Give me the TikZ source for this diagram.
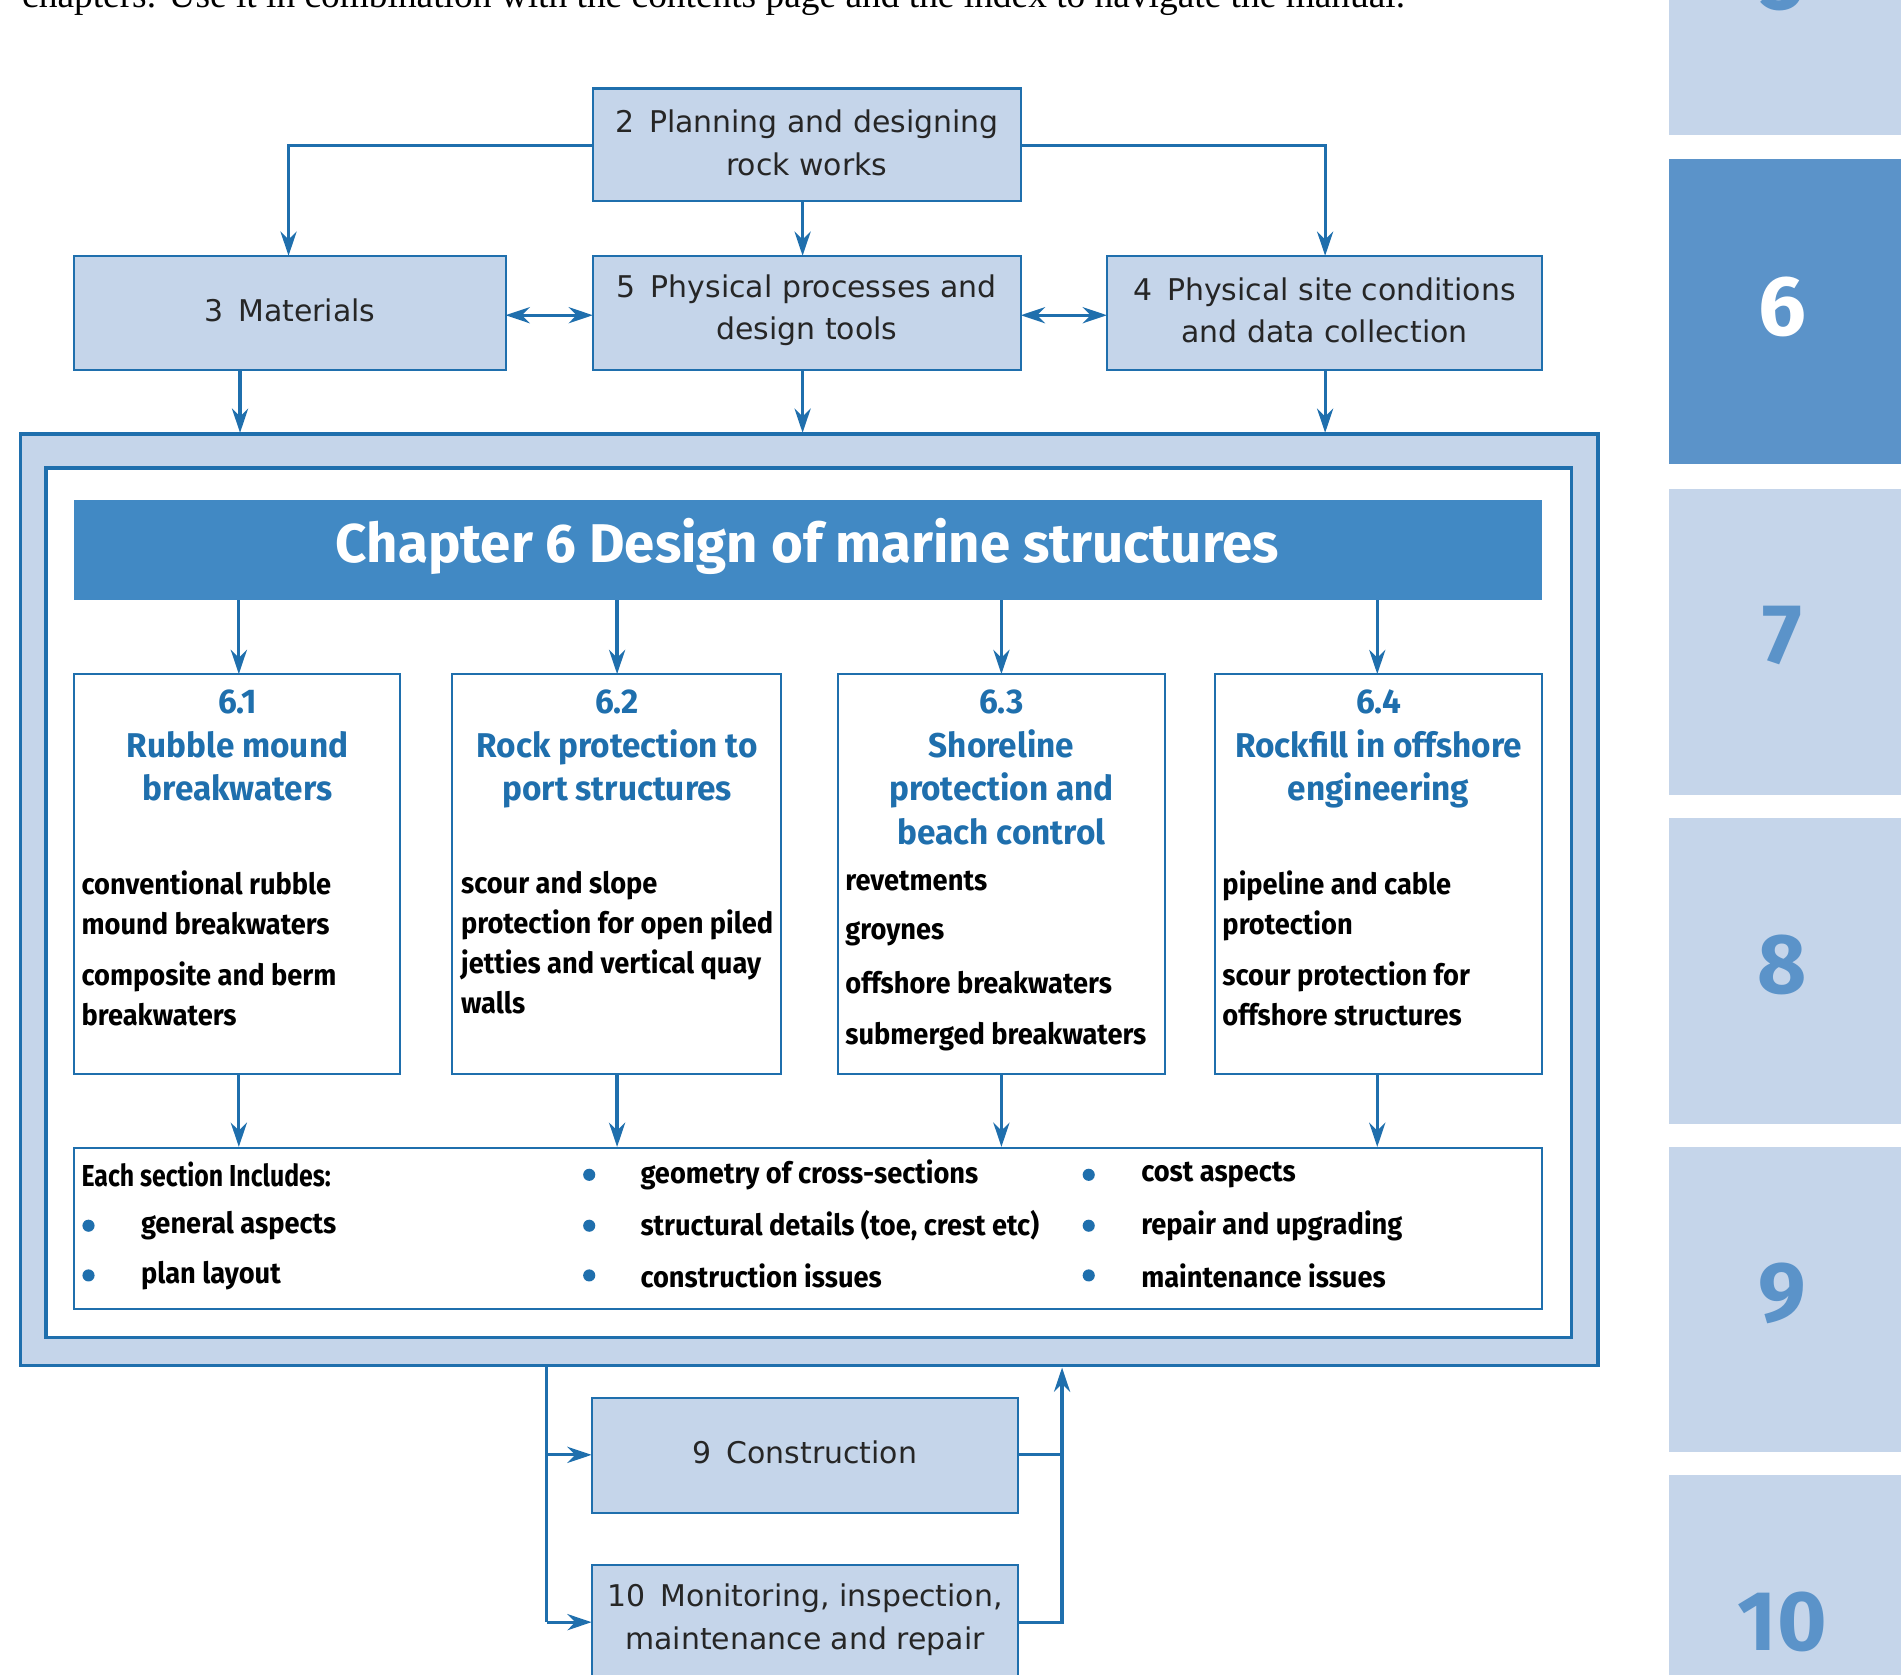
\documentclass[tikz,border=0pt]{standalone}
\usepackage{fontspec}
\setmainfont{DejaVu Sans}
\newfontfamily\cond{Fira Sans}[FakeStretch=0.93]
\newfontfamily\condb{Fira Sans}[FakeStretch=0.97]
\newfontfamily\fira{Fira Sans}
\newfontfamily\serif{Liberation Serif}
\usetikzlibrary{arrows.meta}
\definecolor{lb}{HTML}{C5D5EA}
\definecolor{db}{HTML}{1F6FAD}
\definecolor{tb}{HTML}{4189C4}
\definecolor{tab}{HTML}{5B93C9}
\begin{document}
\begin{tikzpicture}[x=0.6pt,y=-0.6pt,
 box/.style={draw=db,line width=1pt,fill=lb},
 btxt/.style={font=\fontsize{14.8}{21}\selectfont,align=center,text=black!85},
 arr/.style={draw=db,line width=1.6pt,-{Stealth[length=12pt,width=8pt]}},
 darr/.style={draw=db,line width=1.6pt,{Stealth[length=12pt,width=8pt]}-{Stealth[length=12pt,width=8pt]}},
 col/.style={draw=db,line width=1pt,fill=white},
 head/.style={font=\condb\bfseries\fontsize{17}{21.6}\selectfont,text=db,align=center},
 item/.style={font=\cond\bfseries\fontsize{14.5}{19.8}\selectfont,align=left,anchor=north west,inner sep=0pt},
 num/.style={font=\fira\bfseries\fontsize{42}{42}\selectfont,text=tab}]
\useasboundingbox (0,0) rectangle (1568,1381);
\begin{scope}
\clip (0,0) rectangle (1568,1381);
\node[anchor=base west,inner sep=0pt,font=\serif\fontsize{18.5}{18.5}\selectfont] (top) at (18,6) {chapters. Use it in combination with the contents page and the index to navigate the manual.};
% tabs
\fill[lb] (1377,-10) rectangle (1568,111);
\fill[tab] (1377,131) rectangle (1568,383);
\fill[lb] (1377,403) rectangle (1568,656);
\fill[lb] (1377,675) rectangle (1568,927);
\fill[lb] (1377,946) rectangle (1568,1198);
\fill[lb] (1377,1217) rectangle (1568,1400);
\node[num] (t5) at (1470,-15) {5};
\node[num,text=white] (t6) at (1470,253) {6};
\node[num] (t7) at (1470,524) {7};
\node[num] (t8) at (1470,796) {8};
\node[num] (t9) at (1470,1067) {9};
\node[num] (t10) at (1470,1338) {10};
% top boxes
\draw[box] (489,73) rectangle (842,166); \node[btxt] (b2) at (665.5,118) {2\enspace Planning and designing\\rock works};
\draw[box] (61,211) rectangle (417,305); \node[btxt] (b3) at (239,256) {3\enspace Materials};
\draw[box] (489,211) rectangle (842,305); \node[btxt] (b5) at (665.5,256) {5\enspace Physical processes and\\design tools};
\draw[box] (913,211) rectangle (1272,305); \node[btxt] (b4) at (1092.5,256) {4\enspace Physical site conditions\\and data collection};
\coordinate (b2l) at (489,120); \coordinate (b2r) at (842,120);
\draw[arr] (b2l) -- (238,120) -- (238,211);
\draw[arr] (b2r) -- (1093,120) -- (1093,211);
\draw[arr] (662,166) -- (662,211);
\draw[darr] (417,260) -- (489,260);
\draw[darr] (842,260) -- (913,260);
\draw[arr] (198,305) -- (198,357);
\draw[arr] (662,305) -- (662,357);
\draw[arr] (1093,305) -- (1093,357);
% frame
\draw[fill=lb,draw=db,line width=1.6pt] (17,358) rectangle (1318,1126);
\draw[fill=white,draw=db,line width=1.6pt] (38,386) rectangle (1296,1103);
\fill[tb] (61,412) rectangle (1272,495);
\node[font=\fira\bfseries\fontsize{27}{30}\selectfont,text=white] (title) at (666,451) {Chapter 6 Design of marine structures};
% columns
\foreach \a/\b in {61/330,373/644,691/961,1002/1272}{\draw[col] (\a,556) rectangle (\b,886);}
\foreach \x in {197,509,826,1136}{\draw[arr] (\x,495) -- (\x,556); \draw[arr] (\x,886) -- (\x,946);}
\node[head,anchor=north] (h1) at (196,563) {6.1\\Rubble mound\\breakwaters};
\node[head,anchor=north] (h2) at (509,563) {6.2\\Rock protection to\\port structures};
\node[head,anchor=north] (h3) at (826,563) {6.3\\Shoreline\\protection and\\beach control};
\node[head,anchor=north] (h4) at (1137,563) {6.4\\Rockfill in offshore\\engineering};
\node[item] (i11) at (67,718) {conventional rubble\\mound breakwaters};
\node[item] (i12) at (67,793) {composite and berm\\breakwaters};
\node[item] (i21) at (380,718) {scour and slope\\protection for open piled\\jetties and vertical quay\\walls};
\node[item] (i31) at (697,718) {revetments};
\node[item] (i32) at (697,760) {groynes};
\node[item] (i33) at (697,801) {offshore breakwaters};
\node[item] (i34) at (697,843) {submerged breakwaters};
\node[item] (i41) at (1008,718) {pipeline and cable\\protection};
\node[item] (i42) at (1008,793) {scour protection for\\offshore structures};
% bottom box
\draw[col] (61,947) rectangle (1272,1080);
\node[item,font=\cond\bfseries\fontsize{15}{19}\selectfont\addfontfeatures{FakeStretch=0.82}] (each) at (67,958) {Each section Includes:};
\foreach \bx/\tx/\ya/\ta in {
 73/116/1011/general aspects, 73/116/1052/plan layout,
 486/528/969/geometry of cross-sections, 486/528/1011/structural details (toe\hbox{,} crest etc), 486/528/1052/construction issues,
 898/941/969/cost aspects, 898/941/1011/repair and upgrading, 898/941/1052/maintenance issues}{
 \fill[db] (\bx,\ya) circle (5);
 \node[item,anchor=west] at (\tx,\ya) {\ta};}
% bottom
\draw[box] (488,1153) rectangle (840,1248); \node[btxt] (b9) at (664,1198) {9\enspace Construction};
\draw[box] (488,1291) rectangle (840,1400); \node[btxt] (b10) at (664,1336) {10\enspace Monitoring, inspection,\\maintenance and repair};
\draw[db,line width=1.6pt] (451,1127) -- (451,1338);
\draw[arr] (451,1200) -- (488,1200);
\draw[arr] (451,1338) -- (488,1338);
\draw[db,line width=1.6pt] (840,1200) -- (876,1200);
\draw[arr] (840,1338) -- (876,1338) -- (876,1128);
\end{scope}
\end{tikzpicture}
\end{document}
